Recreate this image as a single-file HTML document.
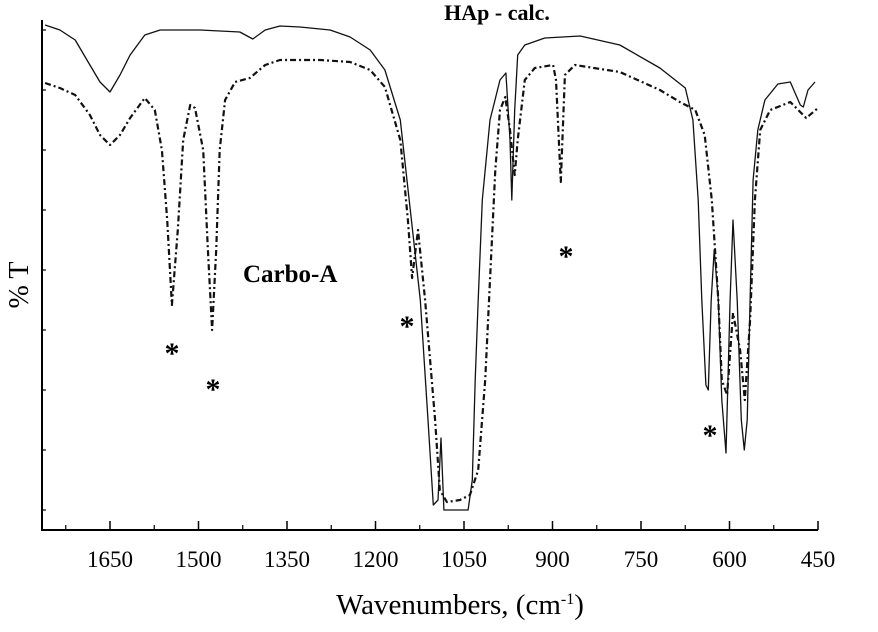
<!DOCTYPE html>
<html><head><meta charset="utf-8"><style>
html,body{margin:0;padding:0;background:#fff;}
svg{display:block;font-family:"Liberation Serif",serif;}
</style></head><body>
<svg id="chart" width="878" height="632" viewBox="0 0 878 632">
<g id="axes"></g>
<g id="series"></g>
<text x="497" y="20" text-anchor="middle" font-size="22" font-weight="bold">HAp - calc.</text>
<text x="243" y="282" font-size="25" font-weight="bold">Carbo-A</text>
<text x="172" y="363" text-anchor="middle" font-size="30" font-weight="bold">*</text>
<text x="213" y="399" text-anchor="middle" font-size="30" font-weight="bold">*</text>
<text x="407" y="336" text-anchor="middle" font-size="30" font-weight="bold">*</text>
<text x="566" y="266" text-anchor="middle" font-size="30" font-weight="bold">*</text>
<text x="710" y="445" text-anchor="middle" font-size="30" font-weight="bold">*</text>
<text transform="translate(28,285) rotate(-90)" text-anchor="middle" font-size="28">% T</text>
<text x="460" y="614" text-anchor="middle" font-size="29">Wavenumbers, (cm<tspan dy="-10" font-size="16">-1</tspan><tspan dy="10">)</tspan></text>
</svg>
<script>
const xTicks = [1650,1500,1350,1200,1050,900,750,600,450];
const xMinorTicks = [1725,1575,1425,1275,1125,975,825,675,525];
const yTicks = [20,80,140,200,260,320,380,440,500];
const solidWn = [1760,1735,1709,1684,1667,1650,1633,1616,1591,1565,1497,1430,1408,1387,1362,1328,1277,1243,1209,1184,1158,1141,1124,1111,1102,1094,1089,1084,1043,1036,1031,1026,1019,1006,989,979,972,969,964,959,947,913,853,786,718,675,662,653,647,640,636,631,626,619,613,606,599,594,587,580,575,570,565,560,552,540,518,497,480,475,467,455];
const solidT = [505,500,490,465,448,438,455,475,495,500,500,498,491,500,504,503,500,493,480,460,410,320,230,110,25,30,92,20,20,50,150,230,330,410,450,457,390,330,420,475,485,492,494,485,462,442,410,330,230,145,140,230,280,230,130,77,230,310,230,110,80,110,230,350,400,430,446,448,425,423,440,448];
const dashWn = [1760,1735,1709,1684,1667,1650,1633,1616,1591,1574,1562,1553,1545,1535,1526,1514,1506,1492,1484,1477,1470,1464,1455,1438,1413,1387,1362,1294,1243,1209,1184,1158,1145,1138,1128,1116,1099,1091,1079,1057,1040,1026,1014,1006,997,989,980,972,964,959,947,930,899,894,886,879,862,786,718,684,658,642,630,619,613,604,594,582,574,565,557,548,531,497,470,450];
const dashT = [447,442,435,415,395,385,395,412,432,420,380,310,225,300,390,425,422,380,280,200,280,380,430,448,452,465,470,470,468,460,443,390,310,252,300,230,110,40,28,30,35,60,150,250,360,420,433,400,355,390,450,462,465,450,348,455,465,458,440,428,420,395,330,230,150,135,217,180,130,210,330,400,420,428,412,422];

const NS = "http://www.w3.org/2000/svg";
const xs = w => 110 + (1650 - w) * 0.59;
const ys = t => 530 - t;
function mk(tag, attrs, parent){const e=document.createElementNS(NS,tag);for(const k in attrs)e.setAttribute(k,attrs[k]);parent.appendChild(e);return e;}
const axes = document.getElementById('axes');
const series = document.getElementById('series');
const ax = mk('line',{x1:42,y1:530,x2:818,y2:530,stroke:'#000','stroke-width':2},axes);


const ay = mk('line',{x1:42,y1:20,x2:42,y2:531,stroke:'#000','stroke-width':2},axes);


xTicks.forEach(w=>{
  const t = mk('line',{x1:xs(w),y1:530,x2:xs(w),y2:521,stroke:'#000','stroke-width':1.5},axes);
  
  
  const l = mk('text',{x:xs(w),y:567,'text-anchor':'middle','font-size':23},axes);
  l.textContent = w;
  
  
});
xMinorTicks.forEach(w=>{
  const t = mk('line',{x1:xs(w),y1:530,x2:xs(w),y2:525,stroke:'#000','stroke-width':1.2},axes);
  
  
});
yTicks.forEach(v=>{
  const t = mk('line',{x1:42,y1:ys(v),x2:46,y2:ys(v),stroke:'#000','stroke-width':1.2},axes);
  
  
});
function path(wn,t){return wn.map((w,i)=>(i?'L':'M')+xs(w).toFixed(1)+','+ys(t[i]).toFixed(1)).join(' ');}
const ps = mk('path',{d:path(solidWn,solidT),fill:'none',stroke:'#111','stroke-width':1.3,'stroke-linejoin':'round'},series);


const pd = mk('path',{d:path(dashWn,dashT),fill:'none',stroke:'#111','stroke-width':2.2,'stroke-dasharray':'6 3 2 3','stroke-linejoin':'round'},series);


</script>
</body></html>
